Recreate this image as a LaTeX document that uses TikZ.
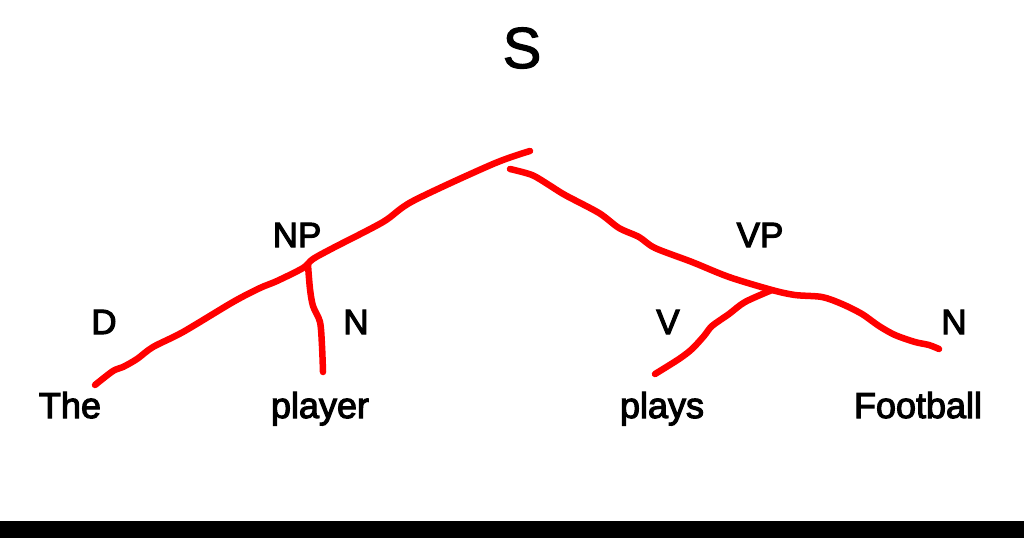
\documentclass[tikz,border=0pt]{standalone}
\usepackage{fontspec}
\newfontfamily\lblfont{Liberation Sans}
\newcommand\hvtext[1]{\special{pdf:code 2 Tr 1.1 w}#1\special{pdf:code 0 Tr}}
\begin{document}
\begin{tikzpicture}[x=1pt,y=-1pt,
  redline/.style={draw={rgb,255:red,255;green,0;blue,0}, line width=6.5pt, line cap=round, line join=round},
  catlbl/.style={font=\lblfont\fontsize{35}{35}\selectfont, anchor=base, inner sep=0pt},
  wordlbl/.style={font=\lblfont\fontsize{36}{36}\selectfont, anchor=base, inner sep=0pt},
  rootlbl/.style={font=\lblfont\fontsize{58}{58}\selectfont, anchor=base, inner sep=0pt}]
\useasboundingbox (0,0) rectangle (1024,538);
\fill[white] (0,0) rectangle (1024,521);
\fill[black] (0,521) rectangle (1024,538);
% labels
\node[rootlbl] (S) at (522,68) {\hvtext{S}};
\node[catlbl] (NP) at (297,247) {\hvtext{NP}};
\node[catlbl] (VP) at (760,247) {\hvtext{VP}};
\node[catlbl] (D) at (104,334) {\hvtext{D}};
\node[catlbl] (N1) at (356,334) {\hvtext{N}};
\node[catlbl] (V) at (668,334) {\hvtext{V}};
\node[catlbl] (N2) at (954,334) {\hvtext{N}};
\node[wordlbl] (The) at (70,418) {\hvtext{The}};
\node[wordlbl] (player) at (320,418) {\hvtext{player}};
\node[wordlbl] (plays) at (662,418) {\hvtext{plays}};
\node[wordlbl] (Football) at (918,418) {\hvtext{Football}};
% stroke end points
\coordinate (sL) at (530,151);
\coordinate (sR) at (510,169);
\coordinate (npJ) at (308,265);
\coordinate (vpJ) at (772,290);
\coordinate (theE) at (95,385);
\coordinate (playerE) at (323,372);
\coordinate (playsE) at (655,374);
\coordinate (footE) at (939,349);
% strokes
\draw[redline] plot[smooth, tension=0.5] coordinates {(sL) (493,164) (413,201) (383,222) (333,248) (313,259) (303,268) (277,281) (260,288) (233,302) (183,332) (153,347) (137,359) (123,367) (113,371) (theE)};
\draw[redline] plot[smooth, tension=0.5] coordinates {(npJ) (310,289) (313,306) (320,322) (322,346) (playerE)};
\draw[redline] plot[smooth, tension=0.5] coordinates {(sR) (532,175) (549,185) (565,195) (599,213) (619,228) (639,237) (655,248) (692,262) (729,277) (vpJ) (795,295) (822,297) (842,304) (862,314) (879,326) (895,335) (915,342) (929,345) (footE)};
\draw[redline] plot[smooth, tension=0.5] coordinates {(vpJ) (745,302) (729,314) (712,326) (704,336) (692,349) (679,359) (playsE)};
\end{tikzpicture}
\end{document}
